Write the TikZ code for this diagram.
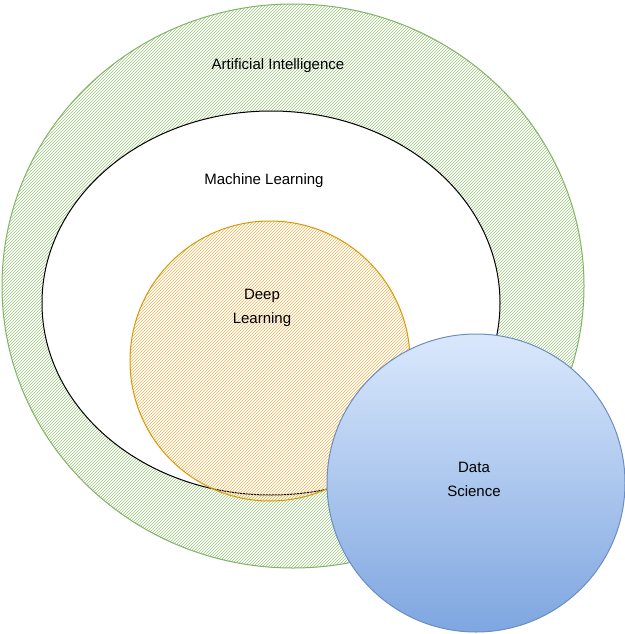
\documentclass[tikz,border=0pt]{standalone}
\usepackage{fontspec}
\setmainfont{Liberation Sans}
\usetikzlibrary{patterns}
\definecolor{aig}{HTML}{82B366}
\definecolor{aih}{HTML}{9CC67E}
\definecolor{dlo}{HTML}{D79B00}
\definecolor{dlh}{HTML}{F0B65A}
\definecolor{dsb}{HTML}{6C8EBF}
\definecolor{dst}{HTML}{DAE8FC}
\definecolor{dsm}{HTML}{7EA6E0}
\tikzset{lbl/.style={font=\fontsize{15}{24}\selectfont, align=center, text=black}}
\begin{document}
\begin{tikzpicture}[x=1pt,y=-1pt]
\useasboundingbox (0,0) rectangle (624,634);
\path[pattern=north east lines, pattern color=aih] (293,286) ellipse [x radius=291, y radius=282];
\draw[aig, line width=1pt] (293,286) ellipse [x radius=291, y radius=282];
\draw[black, fill=white, line width=1pt] (271,303) ellipse [x radius=229, y radius=192];
\path[pattern=north east lines, pattern color=dlh] (270,361) circle [radius=140];
\draw[dlo, line width=1pt] (270,361) circle [radius=140];
\shade[top color=dst, bottom color=dsm] (476,483) circle [radius=149];
\draw[dsb, line width=1pt] (476,483) circle [radius=149];
\node[lbl] (ai) at (278,66) {Artificial Intelligence};
\node[lbl] (ml) at (264,181) {Machine Learning};
\node[lbl] (dl) at (262,308) {Deep\\Learning};
\node[lbl] (ds) at (474,479) {Data\\Science};
\end{tikzpicture}
\end{document}
